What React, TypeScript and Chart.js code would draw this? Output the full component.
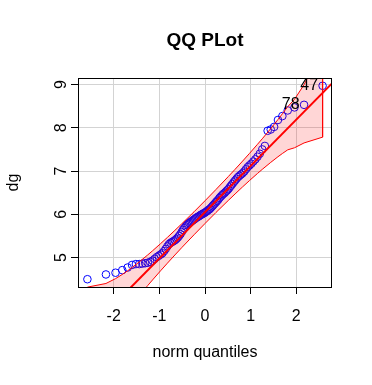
import React, { useEffect, useRef } from 'react';
import { Chart, registerables } from 'chart.js';

Chart.register(...registerables);

// Theoretical normal quantiles (x of each point)
const normQuantiles = [
  -2.576, -2.170, -1.960, -1.812, -1.695, -1.598, -1.514, -1.440, -1.372, -1.311,
  -1.254, -1.200, -1.150, -1.103, -1.058, -1.015, -0.974, -0.935, -0.896, -0.860,
  -0.824, -0.789, -0.755, -0.722, -0.690, -0.659, -0.628, -0.598, -0.568, -0.539,
  -0.510, -0.482, -0.454, -0.426, -0.399, -0.372, -0.345, -0.319, -0.292, -0.266,
  -0.240, -0.215, -0.189, -0.164, -0.138, -0.113, -0.088, -0.063, -0.038, -0.013,
  0.013, 0.038, 0.063, 0.088, 0.113, 0.138, 0.164, 0.189, 0.215, 0.240,
  0.266, 0.292, 0.319, 0.345, 0.372, 0.399, 0.426, 0.454, 0.482, 0.510,
  0.539, 0.568, 0.598, 0.628, 0.659, 0.690, 0.722, 0.755, 0.789, 0.824,
  0.860, 0.896, 0.935, 0.974, 1.015, 1.058, 1.103, 1.150, 1.200, 1.254,
  1.311, 1.372, 1.440, 1.514, 1.598, 1.695, 1.812, 1.960, 2.170, 2.576,
];

// Sorted sample values (dg)
const dgValues = [
  4.50, 4.61, 4.65, 4.71, 4.77, 4.83, 4.85, 4.85, 4.86, 4.87,
  4.88, 4.90, 4.93, 4.97, 5.01, 5.04, 5.07, 5.10, 5.15, 5.20,
  5.26, 5.31, 5.34, 5.36, 5.38, 5.40, 5.43, 5.46, 5.50, 5.54,
  5.59, 5.64, 5.68, 5.72, 5.75, 5.78, 5.80, 5.82, 5.84, 5.86,
  5.88, 5.90, 5.92, 5.94, 5.95, 5.97, 5.99, 6.00, 6.02, 6.03,
  6.05, 6.07, 6.09, 6.11, 6.13, 6.16, 6.19, 6.22, 6.25, 6.28,
  6.31, 6.34, 6.38, 6.41, 6.44, 6.47, 6.49, 6.52, 6.55, 6.58,
  6.62, 6.66, 6.70, 6.74, 6.78, 6.82, 6.86, 6.89, 6.92, 6.95,
  6.99, 7.04, 7.09, 7.13, 7.17, 7.22, 7.27, 7.33, 7.40, 7.50,
  7.58, 7.93, 7.96, 8.02, 8.18, 8.27, 8.40, 8.47, 8.53, 8.97,
];

// Reference line
const lineIntercept = 6.05;
const lineSlope = 1.07;

// Confidence envelope
const bandX = [
  -2.576, -2.170, -1.960, -1.812, -1.695, -1.598, -1.440, -1.254, -1.150, -0.974,
  -0.824, -0.659, -0.510, -0.240, 0, 0.240, 0.510, 0.659, 0.824, 0.974,
  1.150, 1.254, 1.440, 1.598, 1.695, 1.812, 1.960, 2.170, 2.576,
];
const bandUpper = [
  4.317, 4.401, 4.513, 4.610, 4.695, 4.770, 4.900, 5.062, 5.156, 5.321,
  5.466, 5.630, 5.780, 6.058, 6.313, 6.573, 6.872, 7.040, 7.230, 7.406,
  7.618, 7.745, 7.981, 8.190, 8.323, 8.488, 8.657, 8.995, 9.829,
];
const bandLower = [
  2.271, 3.055, 3.393, 3.612, 3.777, 3.910, 4.120, 4.355, 4.482, 4.694,
  4.870, 5.060, 5.229, 5.527, 5.787, 6.042, 6.320, 6.470, 6.634, 6.779,
  6.944, 7.038, 7.200, 7.330, 7.405, 7.490, 7.537, 7.649, 7.783,
];

// Labelled observations
const labelTexts = ['47', '78'];
const labelIndex = [99, 98];

const xTicks = [-2, -1, 0, 1, 2];
const yTicks = [5, 6, 7, 8, 9];
const xRange = [-2.782, 2.782];
const yRange = [4.32, 9.15];

const FONT = "'Liberation Sans', Arial, Helvetica, sans-serif";

export default function App() {
  const ref = useRef<HTMLCanvasElement | null>(null);

  useEffect(() => {
    const canvas = ref.current;
    if (!canvas) return;

    const pts = normQuantiles.map((x, i) => ({ x, y: dgValues[i] }));
    const linePts = xRange.map((x) => ({ x, y: lineIntercept + lineSlope * x }));
    const poly = [
      ...bandX.map((x, i) => ({ x, y: bandUpper[i] })),
      ...bandX.map((x, i) => ({ x, y: bandLower[i] })).reverse(),
      { x: bandX[0], y: bandUpper[0] },
    ];

    const overlay = {
      id: 'overlay',
      afterDatasetsDraw(chart: any) {
        const { ctx, chartArea, scales } = chart;
        ctx.save();
        // labels
        ctx.fillStyle = '#000';
        ctx.font = `16px ${FONT}`;
        ctx.textAlign = 'right';
        ctx.textBaseline = 'middle';
        labelTexts.forEach((t, k) => {
          const i = labelIndex[k];
          const px = scales.x.getPixelForValue(normQuantiles[i]);
          const py = scales.y.getPixelForValue(dgValues[i]);
          ctx.fillText(t, px - 4.5, py);
        });
        // box
        ctx.strokeStyle = '#000';
        ctx.lineWidth = 1;
        const l = Math.round(chartArea.left) + 0.5;
        const t = Math.round(chartArea.top) + 0.5;
        const r = Math.round(chartArea.right) - 0.5;
        const b = Math.round(chartArea.bottom) + 0.5;
        ctx.strokeRect(l, t, r - l, b - t);
        // title
        ctx.font = `bold 19px ${FONT}`;
        ctx.textAlign = 'center';
        ctx.textBaseline = 'alphabetic';
        ctx.fillText('QQ PLot', (chartArea.left + chartArea.right) / 2, 46);
        ctx.restore();
      },
    };

    const chart = new Chart(canvas, {
      type: 'scatter',
      data: {
        datasets: [
          {
            data: poly,
            showLine: true,
            fill: 'shape',
            backgroundColor: 'rgba(255,0,0,0.16)',
            borderColor: '#ff0000',
            borderWidth: 1,
            pointRadius: 0,
            tension: 0,
            clip: 0,
            order: 1,
          } as any,
          {
            data: linePts,
            showLine: true,
            fill: false,
            borderColor: '#ff0000',
            borderWidth: 2,
            pointRadius: 0,
            clip: 0,
            order: 2,
          } as any,
          {
            data: pts,
            showLine: false,
            pointStyle: 'circle',
            pointRadius: 3.8,
            pointBorderWidth: 1,
            pointBorderColor: '#0000ff',
            pointBackgroundColor: 'rgba(0,0,0,0)',
            order: 3,
          } as any,
        ],
      },
      options: {
        animation: false,
        responsive: false,
        devicePixelRatio: 1,
        layout: { padding: { top: 78, right: 40, bottom: 0, left: 0 } },
        plugins: {
          legend: { display: false },
          tooltip: { enabled: false },
          title: { display: false },
        },
        scales: {
          x: {
            type: 'linear',
            min: xRange[0],
            max: xRange[1],
            afterBuildTicks: (s: any) => { s.ticks = xTicks.map((v) => ({ value: v })); },
            ticks: {
              includeBounds: false,
              color: '#000',
              padding: 13,
              font: { size: 16, family: FONT },
              maxRotation: 0,
              callback: (v: any) => String(v),
            },
            grid: { color: '#d3d3d3', tickColor: '#000', tickLength: 7, lineWidth: 1 },
            border: { display: false },
            title: {
              display: true,
              text: 'norm quantiles',
              color: '#000',
              font: { size: 16, family: FONT },
              padding: { top: 0, bottom: 22.4 },
            },
            afterFit: (s: any) => { s.height = 98; },
          },
          y: {
            type: 'linear',
            min: yRange[0],
            max: yRange[1],
            afterBuildTicks: (s: any) => { s.ticks = yTicks.map((v) => ({ value: v })); },
            ticks: {
              includeBounds: false,
              color: '#000',
              padding: 4.5,
              minRotation: 90,
              maxRotation: 90,
              crossAlign: 'center',
              font: { size: 16, family: FONT },
              callback: (v: any) => String(v),
            },
            grid: { color: '#d3d3d3', tickColor: '#000', tickLength: 7, lineWidth: 1 },
            border: { display: false },
            title: {
              display: true,
              text: 'dg',
              color: '#000',
              font: { size: 16, family: FONT },
              padding: { top: 4.4, bottom: 0 },
            },
            afterFit: (s: any) => { s.width = 78; },
          },
        },
      } as any,
      plugins: [overlay],
    });

    return () => chart.destroy();
  }, []);

  return (
    <div style={{ position: 'absolute', left: 0, top: 0, width: 372, height: 385 }}>
      <canvas ref={ref} width={372} height={385} />
    </div>
  );
}
